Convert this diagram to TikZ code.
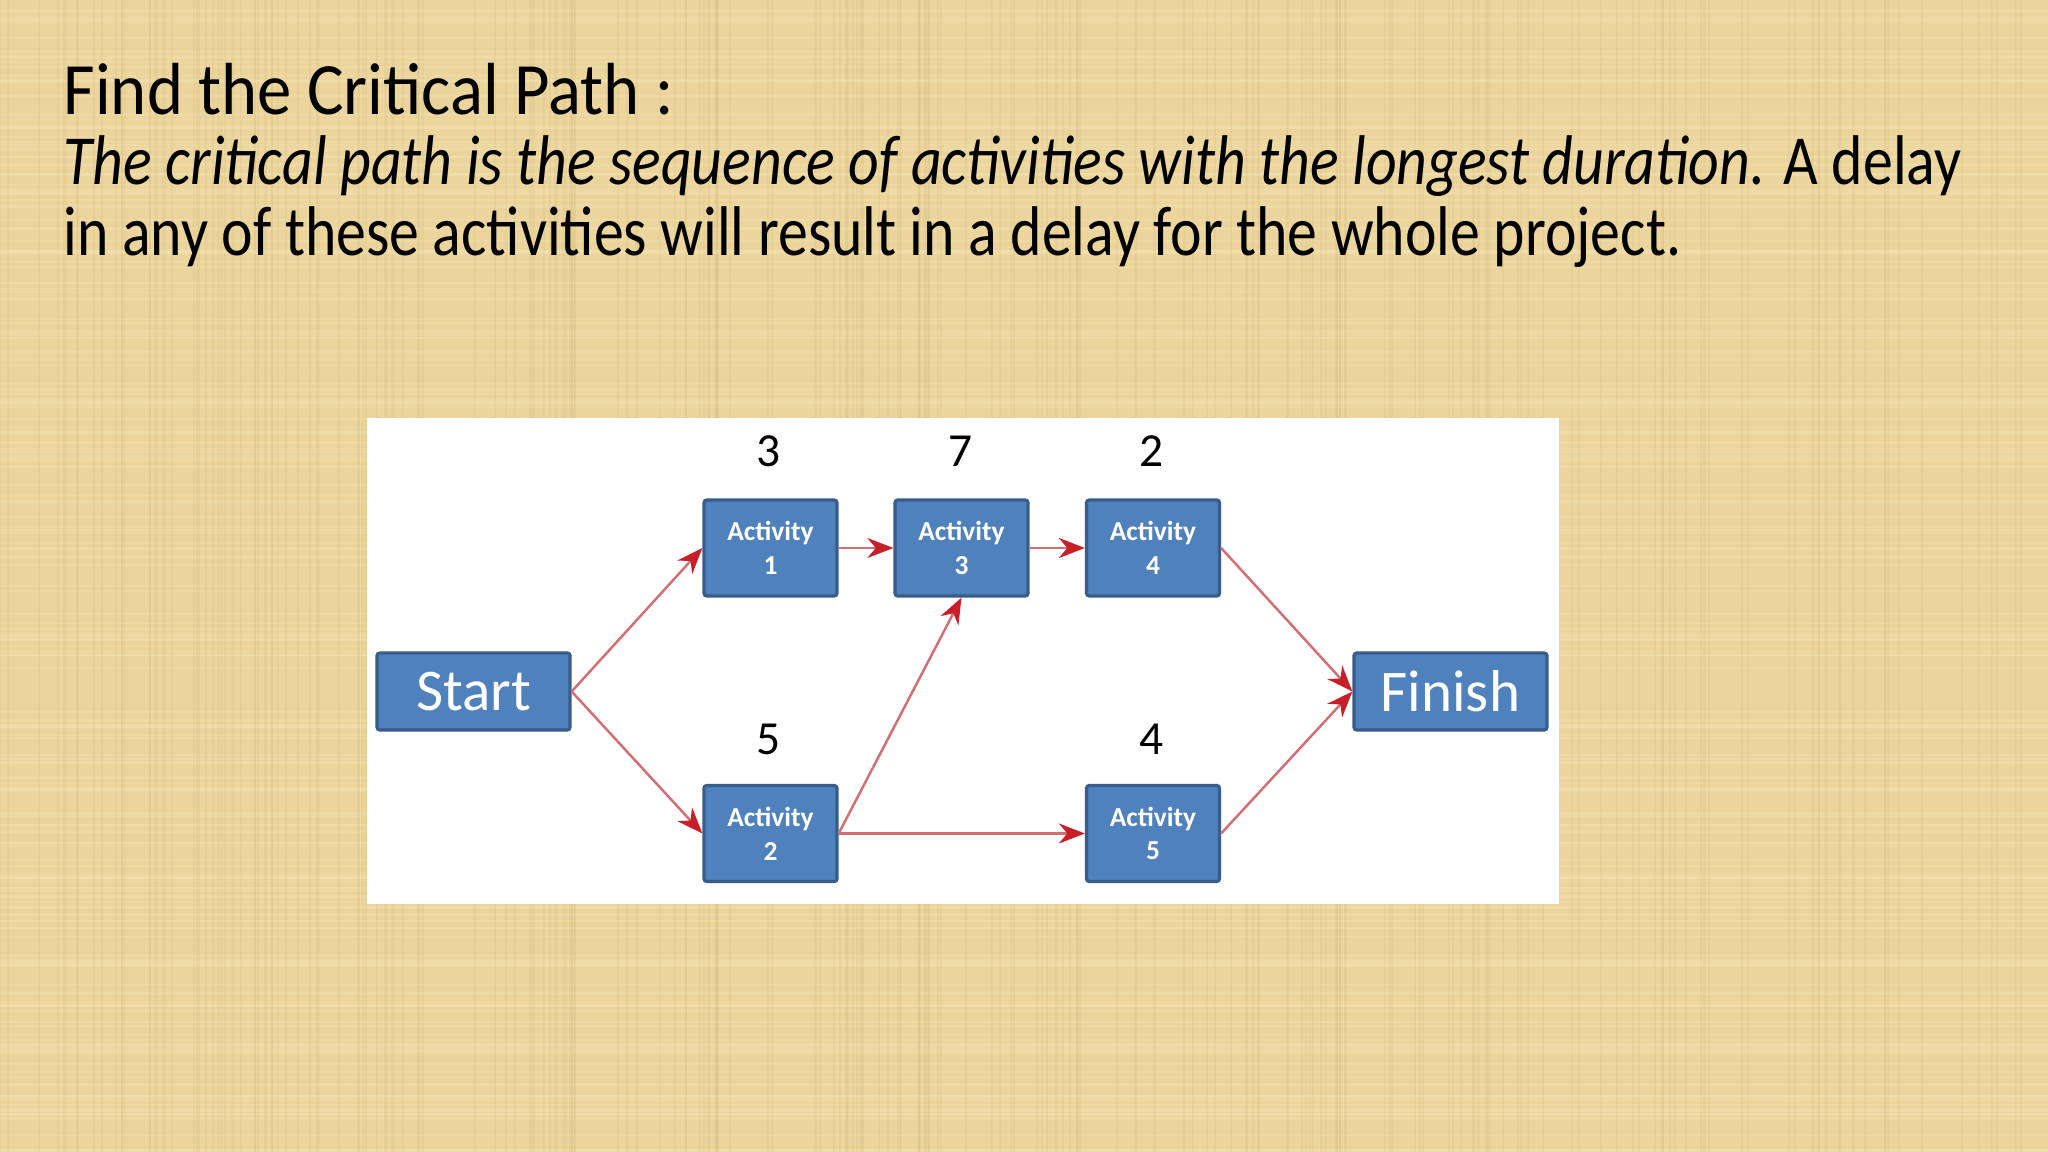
\documentclass[tikz,border=0pt]{standalone}
\usepackage{fontspec}
\setmainfont{Carlito}
\newfontfamily\titlefont[FakeStretch=0.93]{Carlito}
\newfontfamily\bodyfont[FakeStretch=0.85]{Carlito}
\usepackage{xcolor}
\usetikzlibrary{arrows.meta}

\definecolor{parch}{RGB}{235,213,156}
\definecolor{parchdark}{RGB}{210,182,118}
\definecolor{parchlight}{RGB}{247,232,188}
\definecolor{boxblue}{RGB}{79,129,189}
\definecolor{boxedge}{RGB}{56,93,138}
\definecolor{linkred}{RGB}{212,110,115}
\definecolor{tipred}{RGB}{200,30,40}

\tikzset{
	actbox/.style={draw=boxedge,fill=boxblue,line width=0.9pt,rounded corners=0.8pt,
		minimum width=1.33cm,minimum height=0.96cm,inner sep=0pt,text=white,
		align=center,font=\fontsize{7.8}{9.6}\selectfont\bfseries},
	endbox/.style={draw=boxedge,fill=boxblue,line width=0.9pt,rounded corners=0.8pt,
		minimum width=1.93cm,minimum height=0.77cm,inner sep=0pt,text=white,
		font=\fontsize{16.8}{18}\selectfont},
	dur/.style={anchor=base,font=\fontsize{13.5}{14}\selectfont},
	line/.style={anchor=base west,inner sep=0pt}
}

\begin{document}
\begin{tikzpicture}[x=0.01cm,y=-0.01cm]
		\useasboundingbox (0,0) rectangle (2048,1152);
		\fill[parch] (0,0) rectangle (2048,1152);
		% paper grain
		\pgfmathsetseed{7}
		\foreach \i in {1,...,220}{
			\pgfmathsetmacro{\gx}{2048*rnd}
			\pgfmathsetmacro{\gy}{1152*rnd}
			\draw[parchdark,opacity=0.18,line width=0.6pt] (\gx,0) -- (\gx,1152);
			\draw[parchlight,opacity=0.22,line width=0.6pt] (0,\gy) -- (2048,\gy);
		}
		%
		\node[line,font=\fontsize{21}{24}\titlefont] (title) at (63,115) {Find the Critical Path :};
		\node[line,font=\fontsize{20}{24}\bodyfont] (def1) at (63,185) {\textit{The critical path is the sequence of activities with the longest duration.} A delay};
		\node[line,font=\fontsize{20}{24}\bodyfont] (def2) at (63,256) {in any of these activities will result in a delay for the whole project.};
		%
		\fill[white] (367,418) rectangle (1559,904);
		%
		\node[endbox] (St) at (473.5,691.5) {Start};
		\node[actbox] (A1) at (770.5,548) {Activity\\1};
		\node[actbox] (A3) at (961.5,548) {Activity\\3};
		\node[actbox] (A4) at (1153,548) {Activity\\4};
		\node[actbox] (A2) at (770.5,833.5) {Activity\\2};
		\node[actbox] (A5) at (1153,833.5) {Activity\\5};
		\node[endbox] (Fi) at (1450.5,691.5) {Finish};
		%
		\node[dur] (d1) at (769,467) {3};
		\node[dur] (d3) at (961,467) {7};
		\node[dur] (d4) at (1152,467) {2};
		\node[dur] (d2) at (769,754) {5};
		\node[dur] (d5) at (1152,754) {4};
		%
		\path[-{Stealth[length=2.6mm,width=2mm,color=tipred]},color=linkred,line width=0.7pt]
		(St.east) edge (A1.west)
		(St.east) edge (A2.west)
		(A1) edge (A3)
		(A3) edge (A4)
		(A2.east) edge (A3.south)
		(A2) edge (A5)
		(A4.east) edge (Fi.west)
		(A5.east) edge (Fi.west);
	\end{tikzpicture}
\end{document}
